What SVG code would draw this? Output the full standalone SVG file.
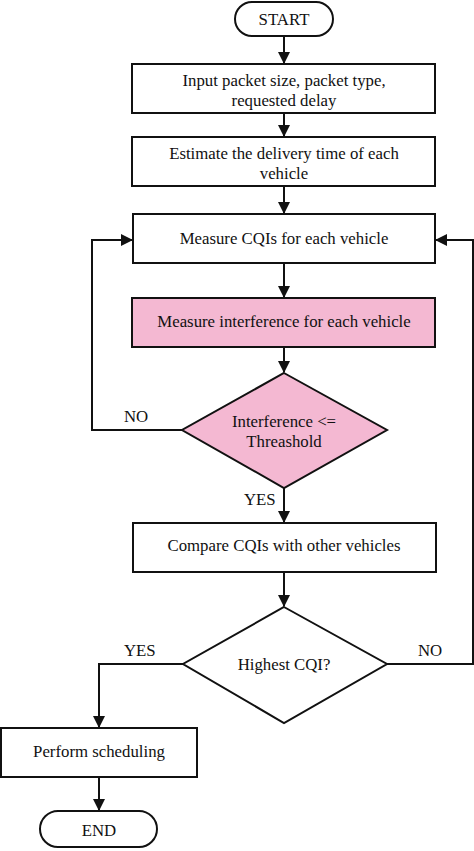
<svg xmlns="http://www.w3.org/2000/svg" width="474" height="851" viewBox="0 0 474 851">
<style>
.s{fill:#fff;stroke:#111;stroke-width:2}
.p{fill:#f4b8d2;stroke:#111;stroke-width:2}
.c{fill:none;stroke:#111;stroke-width:2}
text{font-family:'Liberation Serif','Times New Roman',Tinos,'DejaVu Serif',serif;font-size:16.8px;fill:#111}
.m{text-anchor:middle}
</style>
<defs>
<marker id="a" markerWidth="12" markerHeight="12" refX="11" refY="6" orient="auto" markerUnits="userSpaceOnUse">
<path d="M0,0 L12,6 L0,12 Z" fill="#111"/>
</marker>
</defs>
<rect width="474" height="851" fill="#fff"/>
<g id="connectors">
<path class="c" d="M284,36 V63" marker-end="url(#a)"/>
<path class="c" d="M284,113 V136" marker-end="url(#a)"/>
<path class="c" d="M284,186 V213" marker-end="url(#a)"/>
<path class="c" d="M284,263 V297" marker-end="url(#a)"/>
<path class="c" d="M284,347 V372" marker-end="url(#a)"/>
<path class="c" d="M182,430 H92 V240 H132" marker-end="url(#a)"/>
<path class="c" d="M284,488 V522" marker-end="url(#a)"/>
<path class="c" d="M284,572 V606" marker-end="url(#a)"/>
<path class="c" d="M387,664 H473 V240 H436" marker-end="url(#a)"/>
<path class="c" d="M183,664 H99 V727" marker-end="url(#a)"/>
<path class="c" d="M99,777 V810" marker-end="url(#a)"/>
<text x="124" y="422">NO</text>
<text x="244" y="505">YES</text>
<text x="418" y="656">NO</text>
<text x="124" y="656">YES</text>
</g>
<g id="start">
<rect class="s" x="235" y="2" width="98" height="34" rx="17"/>
<text class="m" x="284" y="25">START</text>
</g>
<g id="input">
<rect class="s" x="132" y="64" width="303" height="49"/>
<text class="m" x="284" y="86">Input packet size, packet type,</text>
<text class="m" x="284" y="106">requested delay</text>
</g>
<g id="estimate">
<rect class="s" x="132" y="137" width="303" height="49"/>
<text class="m" x="284" y="159">Estimate the delivery time of each</text>
<text class="m" x="284" y="179">vehicle</text>
</g>
<g id="cqi">
<rect class="s" x="133" y="214" width="302" height="49"/>
<text class="m" x="284" y="244">Measure CQIs for each vehicle</text>
</g>
<g id="interference">
<rect class="p" x="132" y="298" width="303" height="49"/>
<text class="m" x="284" y="327">Measure interference for each vehicle</text>
</g>
<g id="decision1">
<polygon class="p" points="284,373 387,430 284,488 182,430"/>
<text class="m" x="284" y="427">Interference &lt;=</text>
<text class="m" x="284" y="447">Threashold</text>
</g>
<g id="compare">
<rect class="s" x="133" y="523" width="303" height="49"/>
<text class="m" x="284" y="551">Compare CQIs with other vehicles</text>
</g>
<g id="decision2">
<polygon class="s" points="284,607 387,664 284,723 183,664"/>
<text class="m" x="284" y="670">Highest CQI?</text>
</g>
<g id="schedule">
<rect class="s" x="1" y="728" width="196" height="49"/>
<text class="m" x="99" y="757">Perform scheduling</text>
</g>
<g id="end">
<rect class="s" x="40" y="811" width="117" height="36" rx="18"/>
<text class="m" x="99" y="836">END</text>
</g>
</svg>
